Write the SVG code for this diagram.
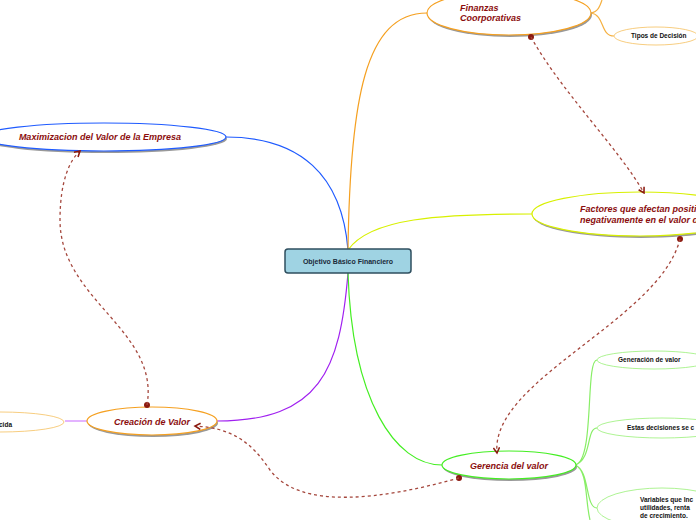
<svg xmlns="http://www.w3.org/2000/svg" width="696" height="520" viewBox="0 0 696 520">
<defs>
<style>
.t{font-family:"Liberation Sans",Arial,sans-serif}
.big{font-size:9px;font-weight:bold;font-style:italic;fill:#8b0e0e}
.sm{font-size:6.5px;font-weight:bold;fill:#111}
.c{fill:none;stroke-width:1.2}
.d{fill:none;stroke:#a5473d;stroke-width:1.3;stroke-dasharray:3,3;marker-end:url(#ar)}
.sh{fill:#999}
</style>
<marker id="ar" viewBox="0 0 10 10" refX="8" refY="5" markerWidth="6" markerHeight="6" orient="auto"><path d="M1,1 L8,5 L1,9" fill="none" stroke="#8b1a10" stroke-width="2"/></marker>
</defs>
<rect width="696" height="520" fill="#fff"/>
<g id="connectors">
<path class="c" stroke="#1f5bff" d="M348,250 C342,175 300,137 226,137"/>
<path class="c" stroke="#f5a020" d="M348,250 C350,100 365,13 427,13"/>
<path class="c" stroke="#d8f000" d="M348,250 C370,218 440,214 532,214"/>
<path class="c" stroke="#a020f0" d="M348,273 C340,370 320,421 217,421"/>
<path class="c" stroke="#44ee22" d="M348,273 C352,400 395,465 442,465"/>
<path class="c" stroke="#d080ff" d="M65,421 L87,421"/>
<path class="c" stroke="#f5b040" stroke-width="0.8" d="M591,13 C598,12 600,6 602,0 M591,13 C605,15 600,36 614,36"/>
<path class="c" stroke="#88ee66" stroke-width="0.8" d="M575,465 C595,462 585,360 597,360 M575,465 C592,460 586,428 597,428 M575,465 C590,470 585,508 597,508 M575,465 C588,470 585,500 590,520"/>
</g>
<g id="center"><rect x="285" y="249" width="126" height="24" rx="3" fill="#9fd3e3" stroke="#2f4f5f" stroke-width="1.5"/><text class="t" x="348" y="264" text-anchor="middle" font-size="7" font-weight="bold" fill="#1a2a3a">Objetivo Básico Financiero</text></g>
<g id="finanzas"><ellipse class="sh" cx="510" cy="15" rx="82" ry="22"/><ellipse cx="509" cy="13" rx="82" ry="22" fill="#fff" stroke="#f5a020" stroke-width="1.2"/><text class="t big" x="460" y="11">Finanzas</text><text class="t big" x="460" y="21">Coorporativas</text></g>
<g id="tipos"><ellipse cx="656" cy="36" rx="42" ry="9" fill="#fff" stroke="#f5c060" stroke-width="0.8"/><text class="t sm" x="631" y="38" font-size="6">Tipos de Decisión</text></g>
<g id="factores"><ellipse class="sh" cx="641" cy="216" rx="108" ry="22"/><ellipse cx="640" cy="214" rx="108" ry="22" fill="#fff" stroke="#d8f000" stroke-width="1.2"/><text class="t big" x="580" y="212">Factores que afectan positivamente o</text><text class="t big" x="580" y="223">negativamente en el valor de la empresa</text></g>
<g id="maximizacion"><ellipse class="sh" cx="105" cy="139" rx="122" ry="14"/><ellipse cx="104" cy="137" rx="122" ry="14" fill="#fff" stroke="#1f5bff" stroke-width="1.2"/><text class="t big" x="100" y="140" text-anchor="middle">Maximizacion del Valor de la Empresa</text></g>
<g id="creacion"><ellipse class="sh" cx="153" cy="423" rx="65" ry="14"/><ellipse cx="152" cy="421" rx="65" ry="14" fill="#fff" stroke="#f5a020" stroke-width="1.2"/><text class="t big" x="152" y="425" text-anchor="middle">Creación de Valor</text></g>
<g id="left"><ellipse cx="0" cy="422" rx="64" ry="10" fill="#fff" stroke="#f5c060" stroke-width="0.8"/><text class="t sm" x="12" y="427" text-anchor="end" font-size="6">cida</text></g>
<g id="gerencia"><ellipse class="sh" cx="510" cy="467" rx="67" ry="14"/><ellipse cx="509" cy="465" rx="67" ry="14" fill="#fff" stroke="#44ee22" stroke-width="1.2"/><text class="t big" x="509" y="469" text-anchor="middle">Gerencia del valor</text></g>
<g id="generacion"><ellipse cx="654" cy="360" rx="57" ry="9" fill="#fff" stroke="#99f077" stroke-width="0.8"/><text class="t sm" x="618" y="362">Generación de valor</text></g>
<g id="estas"><ellipse cx="662" cy="428" rx="65" ry="10" fill="#fff" stroke="#99f077" stroke-width="0.8"/><text class="t sm" x="627" y="430">Estas decisiones se c</text></g>
<g id="variables"><ellipse cx="662" cy="508" rx="65" ry="20" fill="#fff" stroke="#99f077" stroke-width="0.8"/><text class="t sm" x="640" y="502">Variables que Inc</text><text class="t sm" x="640" y="510">utilidades, renta</text><text class="t sm" x="640" y="518">de crecimiento.</text></g>
<g id="relations">
<circle cx="531" cy="37" r="3" fill="#8b1a10"/>
<path class="d" d="M531,37 C560,90 620,150 644,193"/>
<circle cx="680" cy="239" r="3" fill="#8b1a10"/>
<path class="d" d="M680,239 C660,320 490,380 497,453"/>
<circle cx="459" cy="478" r="3" fill="#8b1a10"/>
<path class="d" d="M459,478 C380,500 300,510 270,470 C250,440 230,428 195,426"/>
<circle cx="147" cy="405" r="3" fill="#8b1a10"/>
<path class="d" d="M147,405 C160,330 60,300 60,220 C60,180 70,160 80,151"/>
</g>
</svg>
